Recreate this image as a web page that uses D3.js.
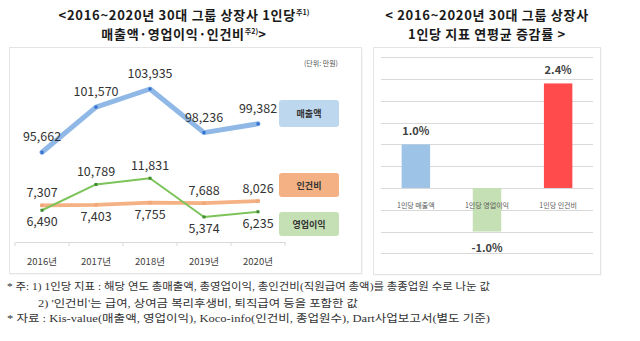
<!DOCTYPE html>
<html><head><meta charset="utf-8">
<script src="https://cdn.jsdelivr.net/npm/d3@7"></script>
<style>
html,body{margin:0;padding:0;background:#fff;}
svg{display:block;}
</style></head>
<body>
<svg id="c" width="640" height="341"></svg>
<script>
// ---- data ----
const years = ["2016년","2017년","2018년","2019년","2020년"];
const sales = [95662,101570,103935,98236,99382];   // 매출액
const labor = [7307,7403,7755,7688,8026];           // 인건비
const profit = [6490,10789,11831,5374,6235];        // 영업이익
const legendLabels = ["매출액","인건비","영업이익"];
const barCats = ["1인당 매출액","1인당 영업이익","1인당 인건비"];
const barVals = [1.0,-1.0,2.4];
const fmtNum = d3.format(",");
const fmtPct = d => d.toFixed(1) + "%";

const svg = d3.select("#c");
const NARROW = "'Liberation Sans Narrow','Arial Narrow','Noto Sans CJK KR',sans-serif";
const KR = "'Noto Sans CJK KR',sans-serif";

// ---- titles ----
function title(x, y, parts, size){
  const t = svg.append("text").attr("x",x).attr("y",y).attr("text-anchor","middle")
    .attr("font-family",KR).attr("font-weight","bold").attr("font-size",size)
    .attr("letter-spacing",0.7).attr("fill","#1a1a1a");
  parts.forEach(p=>{
    const s = t.append("tspan").text(p.t);
    if(p.sup){ s.attr("font-size",size*0.55).attr("dy",-5).attr("letter-spacing",0); }
    if(p.after){ s.attr("dy",5); }
  });
  return t;
}
title(184, 20, [{t:"<2016~2020년 30대 그룹 상장사 1인당"},{t:"주1)",sup:true}], 13);
title(184, 39, [{t:"매출액·영업이익·인건비"},{t:"주2)",sup:true},{t:">",after:true}], 13);
title(487, 20, [{t:"< 2016~2020년 30대 그룹 상장사"}], 13);
title(487, 39, [{t:"1인당 지표 연평균 증감률 >"}], 13);

// ---- panels ----
svg.append("rect").attr("x",10.5).attr("y",48.5).attr("width",352).attr("height",226)
  .attr("fill","#f0f0f0");
svg.append("rect").attr("x",9.5).attr("y",47.5).attr("width",352).attr("height",226)
  .attr("fill","#fff").attr("stroke","#e4e4e4");
svg.append("rect").attr("x",374.5).attr("y",48.5).attr("width",227).attr("height",227)
  .attr("fill","#f0f0f0");
svg.append("rect").attr("x",373.5).attr("y",47.5).attr("width",227).attr("height",227)
  .attr("fill","#fff").attr("stroke","#e4e4e4");

// ---- left line chart ----
const x = d3.scaleBand().domain(years).range([15,285]);
const cx = d => x(d) + x.bandwidth()/2;
const yU = d3.scaleLinear().domain([90000,110000]).range([195.6,42.6]);
const yL = d3.scaleLinear().domain([4000,13000]).range([225.2,171.2]);

// axis
const axisY = 242;
const ax = svg.append("g").attr("transform",`translate(0,${axisY})`)
  .call(d3.axisBottom(x).tickSize(0).tickPadding(16));
ax.select(".domain").attr("stroke","#d9d9d9");
ax.selectAll("text").attr("font-family",NARROW).attr("font-size",9.5).attr("fill","#404040");
// boundary ticks
const bounds = years.map(d=>x(d)).concat([x.range()[1]]);
svg.append("g").selectAll("line").data(bounds).join("line")
  .attr("x1",d=>d).attr("x2",d=>d).attr("y1",axisY).attr("y2",axisY+4)
  .attr("stroke","#d9d9d9");

svg.append("text").attr("x",338).attr("y",66).attr("text-anchor","end")
  .attr("font-family",NARROW).attr("font-size",7).attr("fill","#555").text("(단위: 만원)");

function drawLine(vals, ys, color, width, mcolor, msize){
  const pts = vals.map((v,i)=>[cx(years[i]), ys(v)]);
  svg.append("path").attr("d",d3.line()(pts)).attr("fill","none")
    .attr("stroke",color).attr("stroke-width",width).attr("stroke-linecap","round").attr("stroke-linejoin","round");
  svg.append("g").selectAll("rect").data(pts).join("rect")
    .attr("x",d=>d[0]-msize/2).attr("y",d=>d[1]-msize/2).attr("width",msize).attr("height",msize)
    .attr("fill",mcolor);
  return pts;
}
drawLine(sales, yU, "#8fb8e6", 5, "#2e6fcf", 3);
drawLine(labor, yL, "#f4b183", 3.8, "#f0a878", 3.5);
drawLine(profit, yL, "#7cc35a", 2, "#3d8b2b", 3);

// labels
const lblFont = 12.5;
svg.append("g").selectAll("text").data(sales).join("text")
  .attr("x",(d,i)=>cx(years[i])).attr("y",d=>yU(d)-11)
  .attr("text-anchor","middle").attr("font-family",NARROW).attr("font-size",lblFont)
  .attr("fill","#333").text(d=>fmtNum(d));
function lowerLabels(vals, other){
  svg.append("g").selectAll("text").data(vals).join("text")
    .attr("x",(d,i)=>cx(years[i]))
    .attr("y",(d,i)=> d>=other[i] ? yL(d)-8 : yL(d)+16)
    .attr("text-anchor","middle").attr("font-family",NARROW).attr("font-size",lblFont)
    .attr("fill","#333").text(d=>fmtNum(d));
}
lowerLabels(labor, profit);
lowerLabels(profit, labor);

// legend boxes
const legendBoxes = [
  {y:100, h:27, fill:"#bdd7ee"},
  {y:173, h:24, fill:"#f4b183"},
  {y:212, h:24, fill:"#c5e0b4"}
];
legendBoxes.forEach((b,i)=>{
  svg.append("rect").attr("x",279).attr("y",b.y).attr("width",60).attr("height",b.h)
    .attr("rx",3).attr("fill",b.fill);
  svg.append("text").attr("x",309).attr("y",b.y+b.h/2+3.5).attr("text-anchor","middle")
    .attr("font-family",KR).attr("font-weight","bold").attr("font-size",9).attr("fill","#333")
    .text(legendLabels[i]);
});

// ---- right bar chart ----
const xb = d3.scaleBand().domain(barCats).range([381,593]).paddingInner(0.6).paddingOuter(0.29);
const yb = d3.scaleLinear().domain([-1.5,3.0]).range([253.3,57.3]);
svg.append("g").selectAll("line").data(yb.ticks(10)).join("line")
  .attr("x1",381).attr("x2",593).attr("y1",d=>Math.round(yb(d))+0.5).attr("y2",d=>Math.round(yb(d))+0.5)
  .attr("stroke","#d9d9d9");
const barColors = ["#9dc3e6","#c5e0b4","#ff4b4b"];
svg.append("g").selectAll("rect").data(barVals).join("rect")
  .attr("x",(d,i)=>xb(barCats[i])).attr("width",xb.bandwidth())
  .attr("y",d=>yb(Math.max(0,d))).attr("height",d=>Math.abs(yb(d)-yb(0)))
  .attr("fill",(d,i)=>barColors[i]);
svg.append("g").selectAll("text").data(barVals).join("text")
  .attr("x",(d,i)=>xb(barCats[i])+xb.bandwidth()/2)
  .attr("y",d=> d>=0 ? yb(d)-9 : yb(d)+20)
  .attr("text-anchor","middle").attr("font-family",NARROW).attr("font-weight","bold")
  .attr("font-size",11).attr("fill","#404040").text(fmtPct);
svg.append("g").selectAll("text").data(barCats).join("text")
  .attr("x",d=>xb(d)+xb.bandwidth()/2).attr("y",yb(0)+20)
  .attr("text-anchor","middle").attr("font-family",NARROW).attr("font-size",7)
  .attr("fill","#595959").text(d=>d);

// ---- footnotes ----
const SERIF = "'Liberation Serif','Noto Sans CJK KR',serif";
const notes = [
  {x:7, y:290, t:"* 주: 1) 1인당 지표 : 해당 연도 총매출액, 총영업이익, 총인건비(직원급여 총액)를 총종업원 수로 나눈 값", w:483},
  {x:38, y:307, t:"2) '인건비'는 급여, 상여금 복리후생비, 퇴직급여 등을 포함한 값", w:320},
  {x:7, y:322, t:"* 자료 : Kis-value(매출액, 영업이익), Koco-info(인건비, 종업원수), Dart사업보고서(별도 기준)", w:483}
];
svg.append("g").selectAll("text").data(notes).join("text")
  .attr("x",d=>d.x).attr("y",d=>d.y).attr("font-family",SERIF).attr("font-size",10.5)
  .attr("fill","#333").attr("textLength",d=>d.w).attr("lengthAdjust","spacingAndGlyphs")
  .text(d=>d.t);
</script>
</body></html>
